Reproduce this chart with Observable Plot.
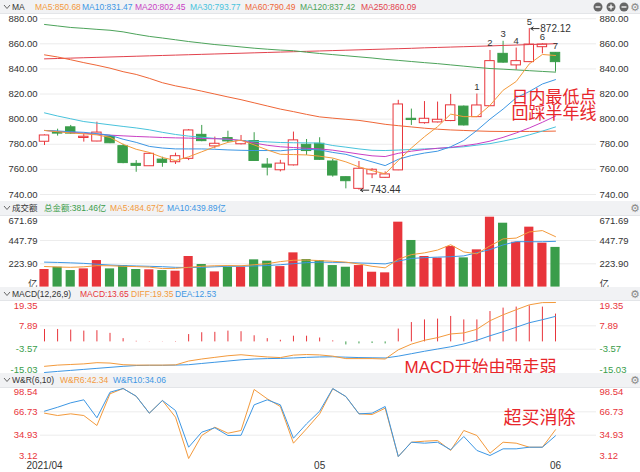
<!DOCTYPE html>
<html><head><meta charset="utf-8">
<script src="https://cdn.jsdelivr.net/npm/d3@7"></script>
<script src="https://cdn.jsdelivr.net/npm/@observablehq/plot@0.6"></script>
<style>
html,body{margin:0;padding:0;background:#fff;}
#root{position:relative;width:640px;height:472px;overflow:hidden;font-family:"Liberation Sans","Noto Sans CJK SC",Arial,sans-serif;}
.hdr{position:absolute;left:0;width:640px;background:#f1f2f4;border-bottom:1px solid #e3e5e8;box-sizing:border-box;z-index:5;}
.hdr span{position:absolute;top:50%;font-size:8.5px;line-height:1;white-space:nowrap;transform:translateY(-50%);}
.hdr svg{position:absolute;}
.pl{position:absolute;left:0;}
.pl svg{overflow:visible;display:block;}
</style></head><body><div id="root"></div>
<script>
// ---------- data ----------
const dates = ["2021-04-01","2021-04-02","2021-04-06","2021-04-07","2021-04-08","2021-04-09","2021-04-12","2021-04-13","2021-04-14","2021-04-15","2021-04-16","2021-04-19","2021-04-20","2021-04-21","2021-04-22","2021-04-23","2021-04-26","2021-04-27","2021-04-28","2021-04-29","2021-04-30","2021-05-06","2021-05-07","2021-05-10","2021-05-11","2021-05-12","2021-05-13","2021-05-14","2021-05-17","2021-05-18","2021-05-19","2021-05-20","2021-05-21","2021-05-24","2021-05-25","2021-05-26","2021-05-27","2021-05-28","2021-05-31","2021-06-01"];
const xTickIndex = [0, 21, 39];
const xTickLabels = ["2021/04", "05", "06"];

const open  = [782,789.5,793.5,785,782.2,786.2,778.5,764.4,762.5,767.8,765.7,768.4,787.5,778.3,784.9,780,782.6,763.8,759.3,763.2,779.6,780.4,766.3,753.8,744.5,756,753.3,759.2,800.3,796.8,797.4,798.5,810,801.6,810.3,852,842.8,845.4,857.3,852.8];
const high  = [787.5,792,795,788.3,797.6,787,780,767,773,769.7,772.9,791.7,795,785.7,790.4,787,789.2,768.6,767.2,789.7,783.8,785.2,768,754,766.3,760.5,758,815,808,814,813.6,819.7,810.5,820,854.7,862,856.6,872.12,860,853];
const low   = [779,786.5,788,781.7,782,780.5,764.5,757.7,762.5,761.7,763.9,767,782,776.4,781.4,779.5,766.5,754.8,758,762.7,771.1,767.1,753.8,744.5,743.44,752.6,753,759,795,796,797,798,794.5,801.3,810,844.5,839,845,852,837.42];
const close = [787,788.5,788.5,786,789.3,780.8,765,762.8,772.4,765.2,770.5,791,782.5,780.4,782.3,782.6,766.7,761.4,764.6,783.1,774.6,767.6,755.1,750.6,760.5,759.7,756,811.7,799.3,800.3,799.5,811,795,810.9,846.2,845,846.2,859.4,859.4,845.4];

const ma5   = [791,790,789,788.3,787.5,785.5,780,776,773.5,769.5,767,770,774,778,781.5,783.3,779.5,775.5,772,771.8,771.5,770.5,769,766,762,759,756.5,767,777,786,794,804,802,802,811,823,830,844,851.5,850.68];
const ma10  = [791,790.6,790,789.5,788.5,787.2,784,781.5,778.3,777,776.3,776.3,776.3,776,775.5,775.2,775,775,774.8,775.8,776,775.5,773.5,772,769,766,763,768,771,773,774.5,778,783,791,800,808,817,822,828,831.47];
const ma20  = [791,790.2,789.6,788.8,788,787.3,786.7,786.2,785.8,785.4,785.1,784.9,784.6,784.4,784.2,783,781,779.2,778,777.4,776.8,776.3,775.3,773.8,772.2,770.8,770.2,772.8,774.5,775.8,776.8,777.5,778.8,780.3,782.5,785.5,789,793,797.5,802.45];
const ma30  = [805,802.5,800.3,798.1,796.8,795.5,794.2,793,791.5,789.5,787.8,786.5,785.6,784.7,783.8,783,782.4,781.9,781.4,781.2,781.1,781,779,777.7,776.3,775.2,775,775.4,775.8,776.3,776.7,777.3,778,779.3,780.5,782.5,784.7,787.5,790.5,793.77];
const ma60  = [851.2,849.5,847.3,845,842.9,840.6,837.8,835.6,832.5,829,826.5,824.5,822.3,820,817.7,815.5,813,810.5,808,806,803.8,801.8,800.8,799.9,799,797.5,795.9,794.8,793.8,792.8,792,791.4,791,790.6,790.3,790.2,790.2,790.2,790.3,790.49];
const ma120 = [875.4,874.2,873,872.3,871.5,870.8,869.5,867.6,865.9,864.6,863.2,861.8,860.6,859.4,858.5,857.5,856.5,855.7,855,854.5,853.3,852.3,851.4,850.5,849.6,848.7,847.6,846.8,845.9,845,844.2,843.2,842.2,841.2,840.3,839.8,839.2,838.6,838,837.42];
const ma250 = [848,848.3,848.6,848.9,849.2,849.5,849.8,850.1,850.4,850.7,851,851.3,851.6,851.9,852.2,852.5,852.8,853.1,853.4,853.7,854,854.3,854.6,854.9,855.2,855.5,855.8,856.1,856.4,856.8,857.1,857.4,857.7,858,858.3,858.7,859,859.4,859.7,860.09];
const priceTicks = [740,760,780,800,820,840,860,880];

const volume  = [169,191,159,175,255,175,207,169,166,159,153,294,217,146,191,191,262,249,197,329,265,255,207,191,207,143,137,624,448,294,278,390,281,358,671.69,614,431,576,422,381.46];
const volMa5  = [198,193,190,195,206,205,200,197,192,178,180,190,200,205,207,205,215,225,245,258,260,255,248,240,222,200,185,268,312,329,356,407,338,320,396,463,471,530,543,484.67];
const volMa10 = [240,237,233,228,220,212,207,203,200,196,190,188,190,195,200,200,203,207,215,225,235,240,238,236,232,228,223,250,275,283,288,292,300,330,360,405,437,436,436,439.89];
const volTicks = [223.90, 447.79, 671.69];

const diff = [-12.0,-11.4,-11.1,-10.8,-10.2,-10.4,-11.2,-11.4,-11.4,-11.4,-11.3,-9.4,-8.4,-7.6,-6.8,-6.3,-6.9,-7.4,-7.7,-6.5,-6.2,-6.4,-7.0,-8.2,-8.2,-8.2,-8.4,-3.9,-1.1,0.8,2.1,3.9,4.4,6.2,10.4,13.3,15.8,18.2,19.3,19.35];
const dea  = [-15.03,-14.5,-14.0,-13.5,-13.0,-12.5,-12.0,-11.6,-11.5,-11.5,-11.4,-11.2,-10.6,-10.0,-9.4,-8.8,-8.4,-8.2,-8.1,-7.9,-7.6,-7.4,-7.3,-7.5,-7.7,-7.8,-7.9,-7.0,-5.8,-4.6,-3.5,-2.4,-1.0,0.8,3.0,5.0,7.2,9.4,10.9,12.53];
const macd = [6.1,6.1,5.8,5.3,5.5,4.2,1.6,0.3,0.1,0.1,0.2,3.6,4.5,4.7,5.3,5.0,3.0,1.6,0.8,2.8,2.8,1.9,0.5,-1.5,-1.0,-0.8,-1.0,6.3,9.5,10.8,11.2,12.5,10.8,10.8,14.9,16.6,17.1,17.7,17.1,13.65];
const macdTicks = [19.35, 7.89, -3.57, -15.03];

const wr6  = [64.9,61.7,64.0,61.7,48.1,91.3,98.54,88.0,64.9,82.2,59.4,3.12,34.5,45.8,37.6,41.3,97.2,84.5,74.0,24.0,43.6,64.0,98.1,87.6,64.0,63.1,71.7,5.8,25.3,26.7,27.6,14.1,41.3,34.5,10.3,25.3,24.0,18.5,18.5,42.34];
const wr10 = [67.6,73.0,79.0,83.1,58.6,93.5,98.54,88.0,64.9,82.2,68.5,18.5,39.0,45.0,34.5,34.8,76.3,83.1,76.3,30.8,50.4,67.6,98.54,87.6,64.0,64.9,74.0,5.8,25.3,24.0,25.3,15.0,33.1,14.1,7.2,16.3,16.3,18.5,18.5,34.06];
const wrTicks = [98.54, 66.73, 34.93, 3.12];

const peakIndex  = [33,34,35,36,37,38,39];
const peakLabels = ["1","2","3","4","5","6","7"];
const noteMain = "日内最低点\n回踩半年线";
const noteMacd = "MACD开始由强走弱";
const noteWr   = "超买消除";

// ---------- styles ----------
const RED = "#e8353b", GREEN = "#3a9d4a", ORANGE = "#f39a3c", BLUE = "#3d97e4";
const NOTE = "#e8262b";
const maColors = {MA5:"#f39a3c", MA10:"#3d97e4", MA20:"#c93fc4", MA30:"#48c3dc", MA60:"#ef6637", MA120:"#4ca35a", MA250:"#e2424d"};
const FONT = '"Liberation Sans","Noto Sans CJK SC",Arial,sans-serif';
const root = document.getElementById("root");
const idx = d3.range(dates.length);
const up = i => close[i] >= open[i];
const upIdx = idx.filter(up), dnIdx = idx.filter(i => !up(i));
const xScale = {domain: [0, dates.length - 1], range: [44, 555], axis: null};
const f2 = d => d.toFixed(2);

function labels(ticks, fmt, fill, lineAnchor = "middle") {
  return ["left", "right"].map(side => Plot.text(ticks, {
    y: d => d, text: fmt, frameAnchor: side,
    textAnchor: side === "left" ? "end" : "start", dx: side === "left" ? -3 : 3,
    lineAnchor, fill, fontSize: 9.5
  }));
}
function grid(ticks) { return Plot.ruleY(ticks, {stroke: "#ececec", strokeWidth: 1}); }
function series(arr, color) { return Plot.line(idx, {x: i => i, y: i => arr[i], stroke: color, strokeWidth: 1}); }
function place(node, top) {
  const d = document.createElement("div"); d.className = "pl"; d.style.top = top + "px";
  d.appendChild(node); root.appendChild(d);
}
const chevron = '<svg width="8" height="6" style="left:3px;top:50%;margin-top:-3px"><polyline points="1,1 4,4.5 7,1" fill="none" stroke="#666" stroke-width="1"/></svg>';
function gear(x) { return `<span style="left:${x}px;font-size:11px;color:#8a8a8a;font-family:'DejaVu Sans'">⚙</span>`; }
function header(top, h, items, extra) {
  const d = document.createElement("div"); d.className = "hdr";
  d.style.top = top + "px"; d.style.height = h + "px";
  let html = chevron;
  items.forEach(([x, t, c]) => { html += `<span style="left:${x}px;color:${c}">${t}</span>`; });
  html += extra;
  d.innerHTML = html; root.appendChild(d);
}

// ---------- headers ----------
const maNames = ["MA5","MA10","MA20","MA30","MA60","MA120","MA250"];
const maSeries = [ma5, ma10, ma20, ma30, ma60, ma120, ma250];
const maX = [35, 82, 135, 190, 245, 300, 361];
const last = a => a[a.length - 1];
const icon = (cx, plus) => `<svg width="10" height="10" style="left:${cx-5}px;top:2px"><circle cx="5" cy="5" r="4.5" fill="#666"/><line x1="2.5" y1="5" x2="7.5" y2="5" stroke="#fff" stroke-width="1.3"/>${plus ? '<line x1="5" y1="2.5" x2="5" y2="7.5" stroke="#fff" stroke-width="1.3"/>' : ''}</svg>`;
header(0, 14,
  [[12, "MA", "#333"]].concat(maNames.map((n, k) => [maX[k], `${n}:${last(maSeries[k]).toFixed(2)}`, maColors[n]])),
  icon(598, false) + icon(611, true) + icon(624, false) + gear(630));
header(201, 15, [[12, "成交额", "#333"], [44, `总金额:${last(volume).toFixed(2)}亿`, up(39) ? RED : GREEN],
  [110, `MA5:${last(volMa5).toFixed(2)}亿`, ORANGE], [167, `MA10:${last(volMa10).toFixed(2)}亿`, BLUE]], gear(630));
header(287, 14, [[12, "MACD(12,26,9)", "#333"], [80, `MACD:${last(macd).toFixed(2)}`, RED],
  [131, `DIFF:${last(diff).toFixed(2)}`, ORANGE], [175, `DEA:${last(dea).toFixed(2)}`, BLUE]], gear(630));
header(373, 15, [[12, "W&amp;R(6,10)", "#333"], [60, `W&amp;R6:${last(wr6).toFixed(2)}`, ORANGE],
  [113, `W&amp;R10:${last(wr10).toFixed(2)}`, BLUE]], gear(630));

const common = {width: 640, marginLeft: 40, marginRight: 44, marginTop: 0,
  style: {fontFamily: FONT, background: "transparent", overflow: "visible"}};

// ---------- main (price) ----------
const bodyLo = i => Math.min(open[i], close[i]);
const bodyHi = i => Math.max(open[i], close[i], bodyLo(i) + 0.5);
const extremes = [d3.minIndex(low), d3.maxIndex(high)];
const extremeVal = i => (i === extremes[0] ? low[i] : high[i]);
const mainPlot = Plot.plot({
  ...common, height: 187, marginBottom: 0,
  x: xScale,
  y: {domain: [740, 860], range: [180, 29.3], axis: null},
  marks: [
    grid(priceTicks),
    ...labels(priceTicks, f2, "#333"),
    Plot.ruleX(upIdx, {x: i => i, y1: i => low[i], y2: i => high[i], stroke: RED}),
    Plot.ruleX(dnIdx, {x: i => i, y1: i => low[i], y2: i => high[i], stroke: GREEN}),
    Plot.rect(upIdx, {x1: i => i - 0.36, x2: i => i + 0.36, y1: bodyLo, y2: bodyHi, fill: "#fff", stroke: RED}),
    Plot.rect(dnIdx, {x1: i => i - 0.36, x2: i => i + 0.36, y1: bodyLo, y2: bodyHi, fill: GREEN, stroke: GREEN}),
    series(ma250, maColors.MA250), series(ma120, maColors.MA120), series(ma60, maColors.MA60),
    series(ma30, maColors.MA30), series(ma20, maColors.MA20), series(ma10, maColors.MA10), series(ma5, maColors.MA5),
    Plot.text(peakIndex, {x: i => i, y: i => high[i], text: (i, k) => peakLabels[k], dy: -4, lineAnchor: "bottom", fontSize: 9.5, fill: "#333"}),
    Plot.arrow(extremes, {x1: i => i + 0.75, x2: i => i + 0.12, y1: extremeVal, y2: extremeVal, stroke: "#333", strokeWidth: 1, headLength: 5, headAngle: 70}),
    Plot.text(extremes, {x: i => i, y: extremeVal, text: i => extremeVal(i).toFixed(2), textAnchor: "start", dx: 11, fontSize: 10, fill: "#333"}),
    Plot.text([noteMain], {x: 35.65, y: 822, text: d => d, textAnchor: "start", lineAnchor: "top", lineHeight: 0.95, fontSize: 17, fill: NOTE, fontFamily: '"Noto Sans CJK SC",sans-serif'})
  ]
});
place(mainPlot, 14);

// ---------- volume ----------
const volPlot = Plot.plot({
  ...common, height: 71, marginBottom: 0,
  x: xScale,
  y: {domain: [0, 671.69], range: [70.6, 0.7], axis: null},
  marks: [
    grid(volTicks.slice(0, 2)),
    ...labels([volTicks[2]], f2, "#333", "top"),
    ...labels(volTicks.slice(0, 2), f2, "#333"),
    ...labels([0], () => "亿", "#333", "bottom"),
    Plot.rect(upIdx, {x1: i => i - 0.35, x2: i => i + 0.35, y1: 0, y2: i => volume[i], fill: RED}),
    Plot.rect(dnIdx, {x1: i => i - 0.35, x2: i => i + 0.35, y1: 0, y2: i => volume[i], fill: GREEN}),
    series(volMa10, BLUE), series(volMa5, ORANGE)
  ]
});
place(volPlot, 216);

// ---------- MACD ----------
const posIdx = idx.filter(i => macd[i] >= 0), negIdx = idx.filter(i => macd[i] < 0);
const macdPlot = Plot.plot({
  ...common, height: 72, marginBottom: 0,
  x: xScale,
  y: {domain: [-15.03, 19.35], range: [71, 1], axis: null},
  marks: [
    grid([7.89, -3.57]),
    ...labels([19.35], f2, RED, "top"),
    ...labels([7.89], f2, RED),
    ...labels([-3.57], f2, GREEN),
    ...labels([-15.03], f2, GREEN, "bottom"),
    Plot.ruleX(posIdx, {x: i => i, y1: 0, y2: i => macd[i], stroke: RED, strokeWidth: 1}),
    Plot.ruleX(negIdx, {x: i => i, y1: 0, y2: i => macd[i], stroke: GREEN, strokeWidth: 1}),
    series(dea, BLUE), series(diff, ORANGE),
    Plot.text([noteMacd], {x: 27.48, y: -12.4, text: d => d, textAnchor: "start", fontSize: 17, fill: NOTE})
  ]
});
place(macdPlot, 301);

// ---------- W&R ----------
const wrPlot = Plot.plot({
  ...common, height: 84, marginBottom: 14,
  x: xScale,
  y: {domain: [3.12, 98.54], axis: null},
  marks: [
    grid([66.73, 34.93]),
    ...labels([98.54], f2, RED, "top"),
    ...labels([66.73, 34.93], f2, RED),
    ...labels([3.12], f2, RED, "bottom"),
    series(wr6, ORANGE), series(wr10, BLUE),
    Plot.text(xTickIndex, {x: d => d, text: (d, k) => xTickLabels[k], frameAnchor: "bottom", lineAnchor: "top", dy: 3, fontSize: 10, fill: "#333"}),
    Plot.text([noteWr], {x: 35.04, y: 57.6, text: d => d, textAnchor: "start", fontSize: 18, fill: NOTE, fontFamily: '"Noto Sans CJK SC",sans-serif'})
  ]
});
place(wrPlot, 388);
</script></body></html>
